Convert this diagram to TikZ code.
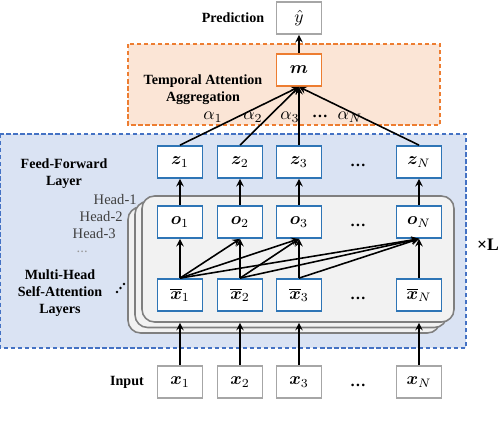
\documentclass[tikz,border=0pt]{standalone}
\usepackage{amsmath,amssymb}
\usepackage{bm}
\usepackage{fontspec}
\setmainfont{Liberation Serif}
\usepackage{xcolor}
\usetikzlibrary{shapes,arrows,positioning,calc}

\definecolor{vecblue}{HTML}{2E75B6}
\definecolor{layerfill}{HTML}{DAE3F3}
\definecolor{layerline}{HTML}{4472C4}
\definecolor{aggorange}{HTML}{ED7D31}
\definecolor{aggfill}{HTML}{FBE5D6}
\definecolor{ingray}{HTML}{A6A6A6}
\definecolor{headgray}{HTML}{7F7F7F}
\definecolor{headfill}{HTML}{F2F2F2}

\tikzset{
  vecbox/.style={draw=vecblue, fill=white, line width=1pt, minimum width=0.9cm,
    minimum height=0.64cm, inner sep=0pt, font=\fontsize{10}{11}\selectfont},
  inbox/.style={vecbox, draw=ingray},
  aggbox/.style={vecbox, draw=aggorange},
  lbl/.style={font=\fontsize{8}{9.6}\selectfont\bfseries, align=center, inner sep=0pt},
  headlbl/.style={font=\fontsize{8.3}{9.6}\selectfont, text=black!75, anchor=east, inner sep=0pt},
  headbox/.style={draw=headgray, fill=headfill, line width=0.9pt, rounded corners=0.25cm,
    minimum width=6.24cm, minimum height=2.52cm, inner sep=0pt},
  dotsnode/.style={font=\fontsize{9}{10}\selectfont\bfseries, inner sep=0pt},
  weightlbl/.style={font=\fontsize{10}{11}\selectfont, inner sep=0pt},
  conn/.style={line width=0.9pt, -stealth},
  dashbox/.style={dash pattern=on 2.5pt off 1.5pt, line width=0.8pt},
}

\begin{document}
\begin{tikzpicture}[x=0.02cm, y=-0.02cm]
    \useasboundingbox (0,0) rectangle (500,428);

    % layer and aggregation backgrounds
    \draw[dashbox, draw=layerline, fill=layerfill] (0,134) rectangle (466,348);
    \draw[dashbox, draw=aggorange, fill=aggfill] (128,44) rectangle (440,125);

    % stacked attention heads
    \node[headbox] (head3) at (284,270) {};
    \node[headbox] (head2) at (291,264.5) {};
    \node[headbox] (head1) at (298,259) {};
    \node[headlbl] (h1) at (137,200) {Head-1};
    \node[headlbl] (h2) at (123,217) {Head-2};
    \node[headlbl] (h3) at (116,234) {Head-3};
    \node[headlbl, text=black!40] (h4) at (88,252) {...};
    \fill (117,292) circle (1.3) (120.5,288) circle (1.3) (124,284) circle (1.3);

    % side labels
    \node[lbl] (pred) at (233,18) {Prediction};
    \node[lbl] (agg) at (203,90) {Temporal Attention\\Aggregation};
    \node[lbl] (ff) at (64,174) {Feed-Forward\\Layer};
    \node[lbl] (mh) at (60,293) {Multi-Head\\Self-Attention\\Layers};
    \node[lbl] (inp) at (127,382) {Input};
    \node[font=\fontsize{10}{12}\selectfont\bfseries, inner sep=0pt] (times) at (488,245) {×L};

    % output
    \node[inbox] (yhat) at (299,18) {$\hat{y}$};
    \node[aggbox] (m) at (299,70) {$\bm{m}$};

    % feed-forward outputs
    \node[vecbox] (z1) at (180,162) {$\bm{z}_1$};
    \node[vecbox] (z2) at (240,162) {$\bm{z}_2$};
    \node[vecbox] (z3) at (299,162) {$\bm{z}_3$};
    \node[dotsnode] (zd) at (358,165) {…};
    \node[vecbox] (zN) at (419,162) {$\bm{z}_N$};

    % attention outputs
    \node[vecbox] (o1) at (180,222) {$\bm{o}_1$};
    \node[vecbox] (o2) at (240,222) {$\bm{o}_2$};
    \node[vecbox] (o3) at (299,222) {$\bm{o}_3$};
    \node[dotsnode] (od) at (358,225) {…};
    \node[vecbox] (oN) at (419,222) {$\bm{o}_N$};

    % attention inputs
    \node[vecbox] (xb1) at (180,295) {$\overline{\bm{x}}_1$};
    \node[vecbox] (xb2) at (240,295) {$\overline{\bm{x}}_2$};
    \node[vecbox] (xb3) at (299,295) {$\overline{\bm{x}}_3$};
    \node[dotsnode] (xbd) at (358,298) {…};
    \node[vecbox] (xbN) at (419,295) {$\overline{\bm{x}}_N$};

    % inputs
    \node[inbox] (x1) at (180,382) {$\bm{x}_1$};
    \node[inbox] (x2) at (240,382) {$\bm{x}_2$};
    \node[inbox] (x3) at (299,382) {$\bm{x}_3$};
    \node[dotsnode] (xd) at (358,385) {…};
    \node[inbox] (xN) at (419,382) {$\bm{x}_N$};

    % inputs into the heads
    \draw[conn] (x1.north) -- (x1.north |- head1.south);
    \draw[conn] (x2.north) -- (x2.north |- head1.south);
    \draw[conn] (x3.north) -- (x3.north |- head1.south);
    \draw[conn] (xN.north) -- (xN.north |- head1.south);

    % causal self-attention
    \draw[conn] (xb1.north) -- (o1.south);
    \draw[conn] (xb1.north) -- (o2.south);
    \draw[conn] (xb1.north) -- (o3.south);
    \draw[conn] (xb1.north) -- (oN.south);
    \draw[conn] (xb2.north) -- (o2.south);
    \draw[conn] (xb2.north) -- (o3.south);
    \draw[conn] (xb2.north) -- (oN.south);
    \draw[conn] (xb3.north) -- (o3.south);
    \draw[conn] (xb3.north) -- (oN.south);
    \draw[conn] (xbN.north) -- (oN.south);

    % feed-forward
    \draw[conn] (o1) -- (z1);
    \draw[conn] (o2) -- (z2);
    \draw[conn] (o3) -- (z3);
    \draw[conn] (oN) -- (zN);

    % temporal aggregation
    \draw[conn] (z1.north) -- (m.south);
    \draw[conn] (z2.north) -- (m.south);
    \draw[conn] (z3.north) -- (m.south);
    \draw[conn] (zN.north) -- (m.south);
    \draw[conn] (m) -- (yhat);
    \node[weightlbl] (a1) at (213,117) {$\alpha_1$};
    \node[weightlbl] (a2) at (253,117) {$\alpha_2$};
    \node[weightlbl] (a3) at (290,117) {$\alpha_3$};
    \node[dotsnode] (ad) at (320,116) {…};
    \node[weightlbl] (aN) at (350,117) {$\alpha_N$};
\end{tikzpicture}
\end{document}
